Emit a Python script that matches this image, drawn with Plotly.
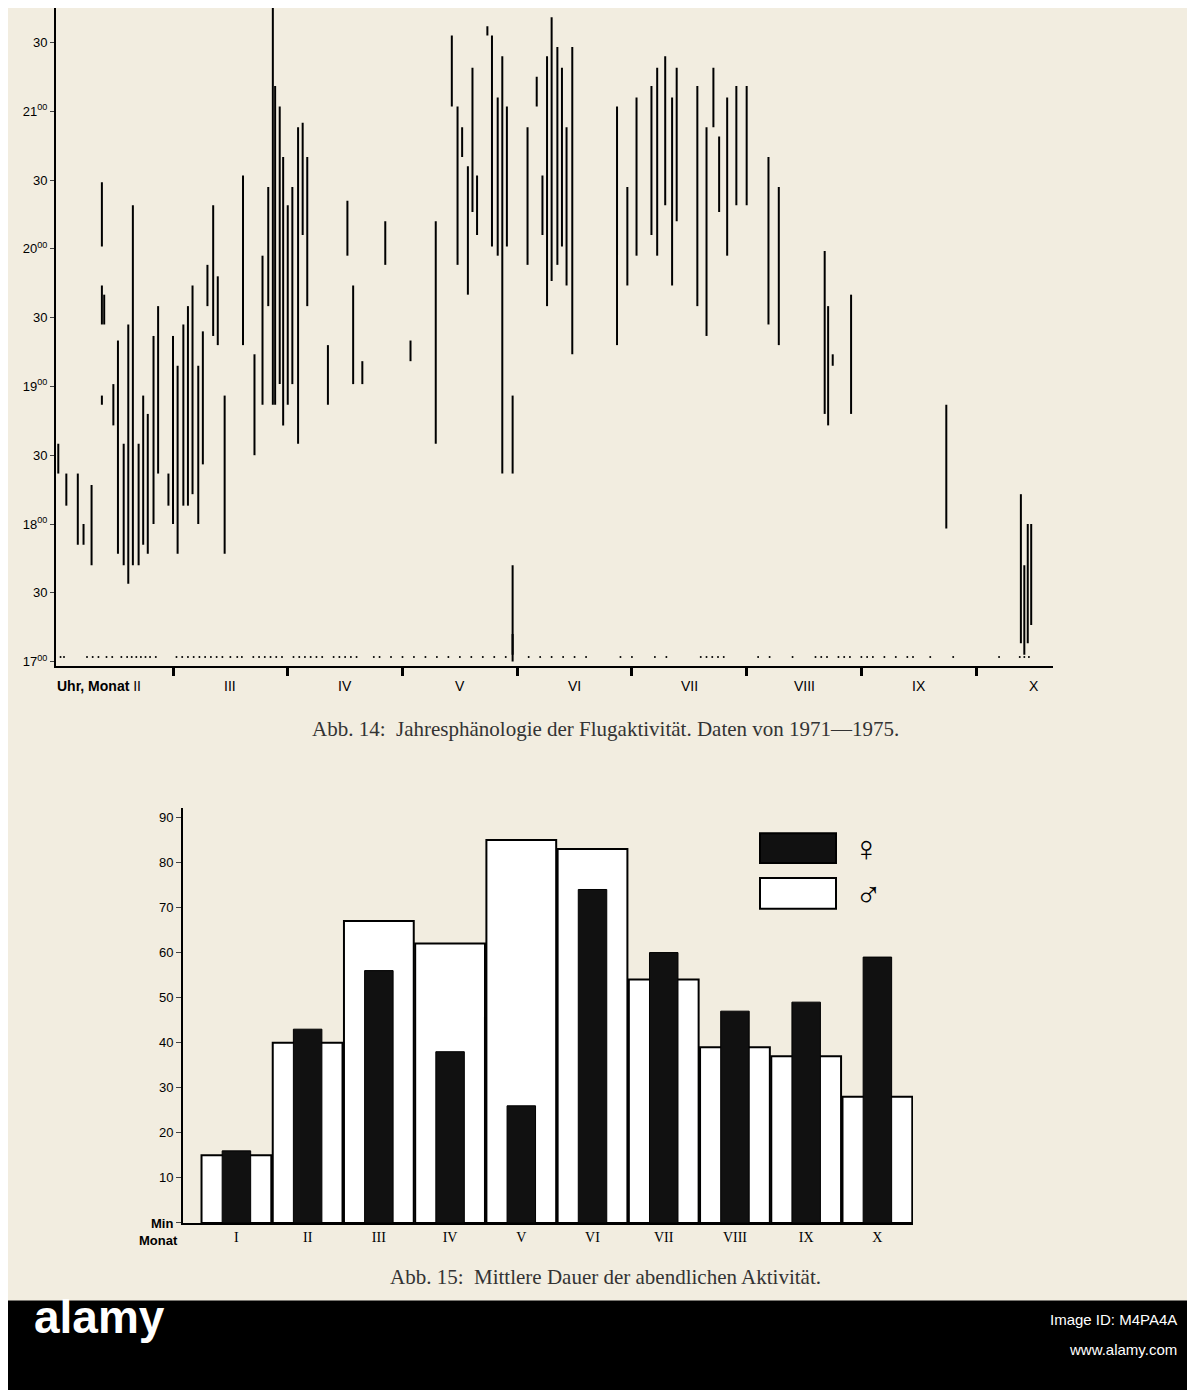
import plotly.graph_objects as go

# ---- Abb. 14 data: x in months (1 = start of III), times in minutes after 17:00
seg_x = [0.0,0.07,0.17,0.22,0.29,0.38,0.38,0.38,0.4,0.48,0.52,0.57,0.61,0.65,0.7,0.74,0.78,0.83,0.87,
         0.96,1.0,1.04,1.09,1.13,1.17,1.22,1.26,1.3,1.35,1.39,1.45,1.61,1.71,1.78,1.83,1.87,1.89,1.93,1.96,
         2.0,2.04,2.09,2.13,2.17,2.35,2.52,2.57,2.61,2.65,2.85,3.07,3.29,3.43,3.48,3.52,3.57,3.61,3.65,
         3.74,3.78,3.83,3.87,3.91,3.96,3.96,3.96,4.09,4.17,4.22,4.26,4.3,4.35,4.39,4.43,4.48,4.87,4.96,
         5.04,5.17,5.22,5.29,5.35,5.39,5.57,5.65,5.71,5.76,5.83,5.91,6.0,6.19,6.28,6.68,6.71,6.75,6.91,
         7.74,8.39,8.42,8.45,8.48]
seg_lo = [95,68,51,60,42,181,147,112,147,103,47,42,34,42,42,51,47,60,82,
          68,60,47,68,68,73,60,86,155,142,138,47,138,90,112,155,112,112,121,103,
          112,121,95,186,155,112,177,121,142,121,173,131,95,242,173,220,160,196,186,
          273,181,177,82,181,82,3,0,173,242,186,155,166,173,181,164,134,138,164,
          177,186,177,199,164,192,155,142,233,196,177,199,199,147,138,108,103,129,108,
          58,8,3,8,16]
seg_hi = [82,82,82,51,77,209,164,116,160,121,140,95,147,199,95,116,108,142,155,
          82,142,129,147,155,164,129,144,173,199,168,116,212,134,177,207,285,251,242,220,
          199,207,233,235,220,138,201,164,142,131,192,140,192,273,242,233,216,259,212,
          277,273,246,264,242,116,42,12,233,255,212,264,281,268,259,233,268,242,207,
          246,251,259,264,246,259,251,233,259,229,246,251,251,220,207,179,155,134,160,
          112,73,42,60,60]

dot_x = [0.02,0.05,0.25,0.3,0.35,0.42,0.47,0.55,0.6,0.64,0.68,0.72,0.76,0.8,0.85,1.03,1.08,1.13,1.18,1.23,
         1.28,1.33,1.38,1.43,1.5,1.56,1.6,1.7,1.75,1.8,1.85,1.9,1.95,2.05,2.1,2.15,2.2,2.25,2.3,2.4,2.45,
         2.5,2.55,2.6,2.75,2.8,2.9,3.0,3.1,3.2,3.3,3.4,3.5,3.6,3.7,3.8,3.9,4.1,4.2,4.3,4.4,4.5,4.6,4.9,
         5.0,5.2,5.3,5.6,5.65,5.7,5.75,5.8,6.1,6.2,6.4,6.6,6.65,6.7,6.8,6.85,6.9,7.0,7.05,7.1,7.2,7.3,7.4,
         7.45,7.6,7.8,8.2,8.38,8.42,8.46]

time_ticks = [0,30,60,90,120,150,180,210,240,270]
time_labels = ["17<sup>00</sup>","30","18<sup>00</sup>","30","19<sup>00</sup>","30",
               "20<sup>00</sup>","30","21<sup>00</sup>","30"]
months_top = ["III","IV","V","VI","VII","VIII","IX","X"]
month_top_pos = [1.5,2.5,3.5,4.5,5.5,6.5,7.5,8.5]

# ---- Abb. 15 data
months = ["I","II","III","IV","V","VI","VII","VIII","IX","X"]
male = [15,40,67,62,85,83,54,39,37,28]
female = [16,43,56,38,26,74,60,47,49,59]

bg = "#f2ede0"
fig = go.Figure()
lx, ly = [], []
for x, a, b in zip(seg_x, seg_lo, seg_hi):
    lx += [x, x, None]; ly += [a, b, None]
fig.add_trace(go.Scatter(x=lx, y=ly, mode="lines", line=dict(color="black", width=2),
                         showlegend=False, xaxis="x", yaxis="y"))
fig.add_trace(go.Scatter(x=dot_x, y=[2]*len(dot_x), mode="markers",
                         marker=dict(color="black", size=2), showlegend=False, xaxis="x", yaxis="y"))

xi = list(range(len(months)))
fig.add_trace(go.Bar(x=xi, y=male, width=0.98, marker=dict(color="white", line=dict(color="black", width=2)),
                     showlegend=False, xaxis="x2", yaxis="y2"))
fig.add_trace(go.Bar(x=xi, y=female, width=0.4, marker=dict(color="#111", line=dict(color="black", width=1)),
                     showlegend=False, xaxis="x2", yaxis="y2"))

H = 1390; W = 1195
fig.update_layout(
    width=W, height=H, margin=dict(l=0, r=0, t=0, b=0),
    paper_bgcolor=bg, plot_bgcolor=bg, barmode="overlay",
    font=dict(family="Liberation Sans", color="black"),
    xaxis=dict(domain=[48/W, 1045/W], range=[-0.02, 8.67], showgrid=False, zeroline=False,
               showline=True, linecolor="black", linewidth=2, ticks="outside", ticklen=8,
               tickwidth=3, tickcolor="black", tickvals=[1,2,3,4,5,6,7,8], showticklabels=False),
    yaxis=dict(domain=[1-662/H, 1], range=[-2, 285], showgrid=False, zeroline=False,
               showline=True, linecolor="black", linewidth=2, ticks="outside", ticklen=4,
               tickvals=time_ticks, ticktext=time_labels, tickfont=dict(size=13)),
    xaxis2=dict(domain=[175/W, 905/W], range=[-0.75, 9.5], showgrid=False, zeroline=False,
                showline=True, linecolor="black", linewidth=2, tickvals=xi, ticktext=months,
                tickfont=dict(family="Liberation Serif", size=14), anchor="y2"),
    yaxis2=dict(domain=[1-1222/H, 1-805/H], range=[0, 92], showgrid=False, zeroline=False,
                showline=True, linecolor="black", linewidth=2, ticks="outside", ticklen=5,
                tickvals=[0,10,20,30,40,50,60,70,80,90],
                ticktext=["<b>Min</b>","10","20","30","40","50","60","70","80","90"],
                tickfont=dict(size=13), anchor="x2"),
)
ann = [dict(x=m, y=1-672/H, xref="x", yref="paper", text=t, showarrow=False, yanchor="top",
            font=dict(size=14)) for m, t in zip(month_top_pos, months_top)]
fig.update_layout(annotations=ann + [
    dict(x=135/W, y=1-672/H, xref="paper", yref="paper", text="<b>Uhr, Monat</b> II", showarrow=False,
         xanchor="right", yanchor="top", font=dict(size=14)),
    dict(x=0.5, y=1-725/H, xref="paper", yref="paper", showarrow=False, yanchor="middle",
         text="Abb. 14:  Jahresphänologie der Flugaktivität. Daten von 1971—1975.",
         font=dict(family="Liberation Serif", size=21, color="#333")),
    dict(x=172/W, y=1-1249/H, xref="paper", yref="paper", text="<b>Monat</b>", showarrow=False,
         xanchor="right", font=dict(size=13)),
    dict(x=0.5, y=1-1290/H, xref="paper", yref="paper", showarrow=False,
         text="Abb. 15:  Mittlere Dauer der abendlichen Aktivität.",
         font=dict(family="Liberation Serif", size=21, color="#333")),
    dict(x=858/W, y=1-845/H, xref="paper", yref="paper", text="♀", showarrow=False,
         font=dict(size=36), xanchor="center"),
    dict(x=860/W, y=1-892/H, xref="paper", yref="paper", text="♂", showarrow=False,
         font=dict(size=36), xanchor="center"),
    dict(x=0.02, y=1-1345/H, xref="paper", yref="paper", text="<b>alamy</b>", showarrow=False,
         xanchor="left", font=dict(size=46, color="white")),
    dict(x=0.98, y=1-1330/H, xref="paper", yref="paper", text="Image ID: M4PA4A", showarrow=False,
         xanchor="right", font=dict(size=15, color="white")),
    dict(x=0.98, y=1-1360/H, xref="paper", yref="paper", text="www.alamy.com", showarrow=False,
         xanchor="right", font=dict(size=15, color="white")),
])
fig.update_layout(shapes=[
    dict(type="rect", xref="paper", yref="paper", x0=752/W, x1=828/W, y0=1-860/H, y1=1-830/H,
         fillcolor="#111", line=dict(color="black", width=2)),
    dict(type="rect", xref="paper", yref="paper", x0=752/W, x1=828/W, y0=1-906/H, y1=1-875/H,
         fillcolor="white", line=dict(color="black", width=2)),
    dict(type="rect", xref="paper", yref="paper", x0=0, x1=1, y0=0, y1=1-1300/H,
         fillcolor="black", line=dict(width=0), layer="above"),
])
fig.write_html("out.html")
